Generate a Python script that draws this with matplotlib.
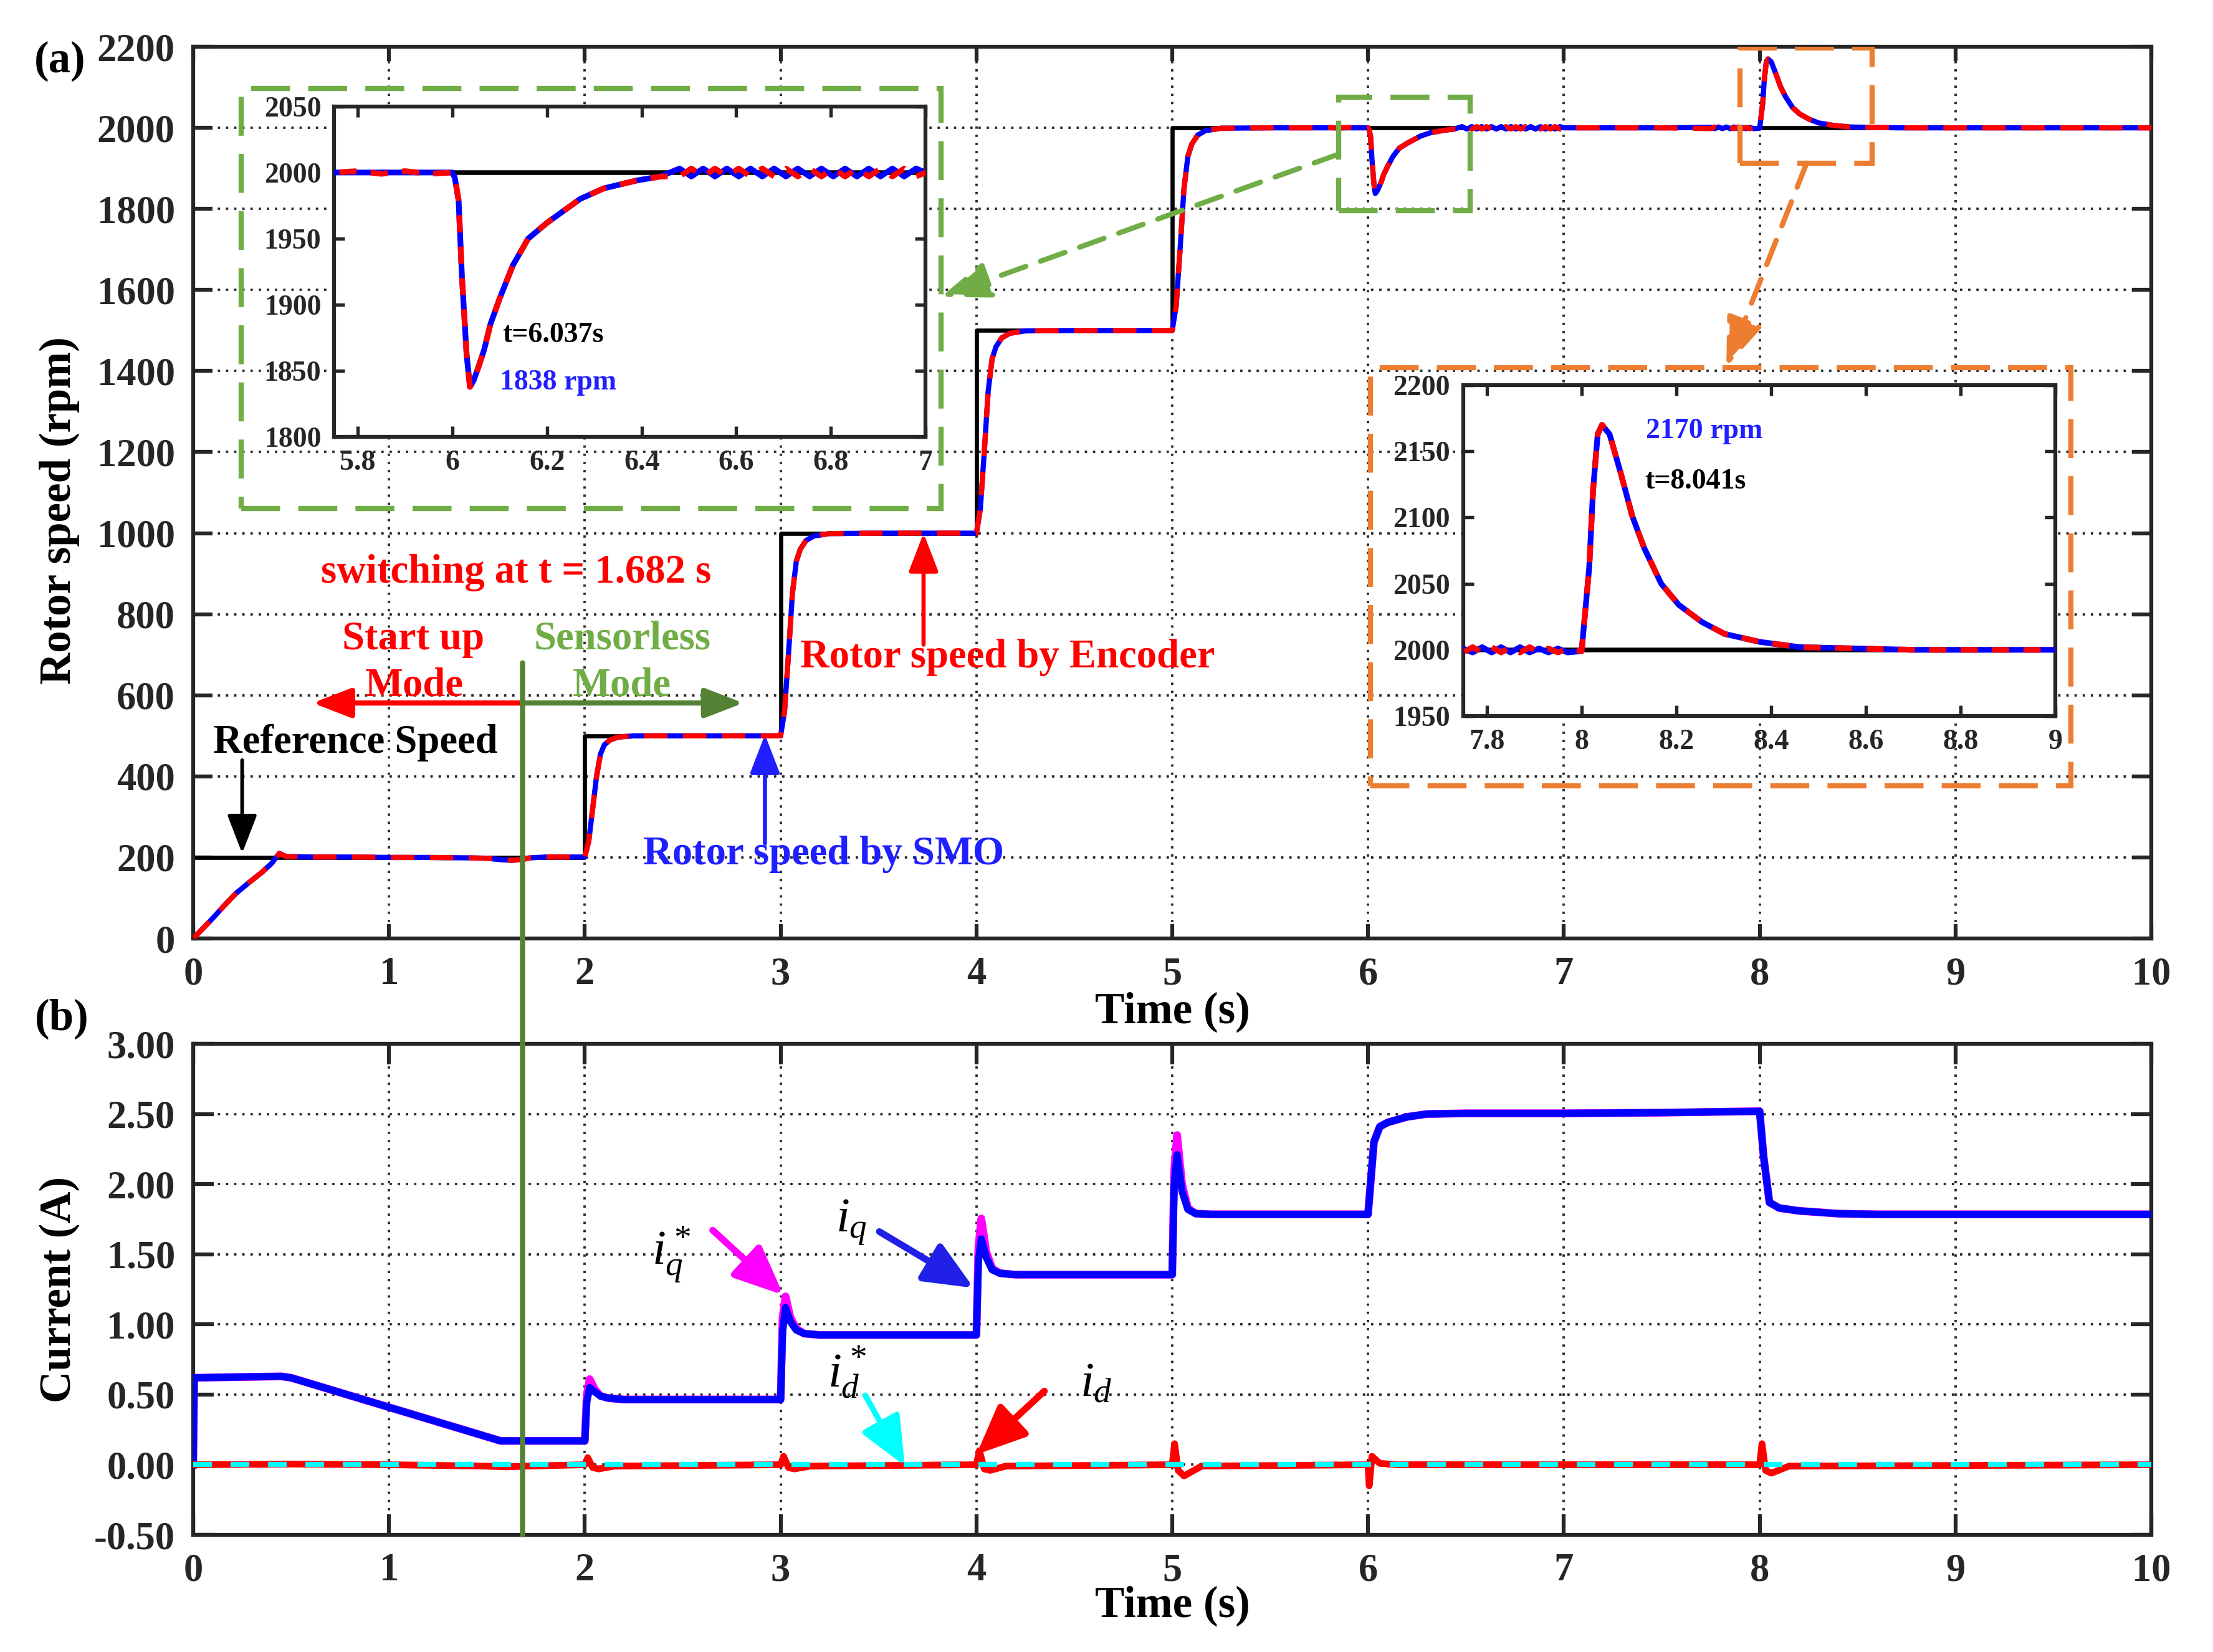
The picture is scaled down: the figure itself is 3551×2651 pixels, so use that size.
import matplotlib
matplotlib.use('Agg')
import matplotlib.pyplot as plt
from matplotlib.patches import Rectangle, ConnectionPatch

plt.rcParams['font.family'] = ['Liberation Serif', 'DejaVu Serif']
plt.rcParams['font.weight'] = 'bold'
plt.rcParams['axes.labelweight'] = 'bold'
plt.rcParams['mathtext.fontset'] = 'custom'
plt.rcParams['mathtext.rm'] = 'Liberation Serif:weight=normal'
plt.rcParams['mathtext.it'] = 'Liberation Serif:style=italic:weight=normal'
plt.rcParams['mathtext.bf'] = 'Liberation Serif:weight=bold'
plt.rcParams['axes.edgecolor'] = '#262626'
plt.rcParams['xtick.color'] = '#262626'
plt.rcParams['ytick.color'] = '#262626'

# ---- data: rotor speed (rpm) ----
t_ref = [0, 2, 2, 3, 3, 4, 4, 5, 5, 10]
ref_speed = [200, 200, 500, 500, 1000, 1000, 1500, 1500, 2000, 2000]

t_speed = [
    0, 0.05, 0.1, 0.16, 0.22, 0.29, 0.35, 0.4, 0.44, 0.47, 0.5, 0.6, 0.8, 1.0, 1.2, 1.4, 1.5, 1.58, 1.63, 1.68, 1.72, 1.8, 2.0,
    2.02, 2.04, 2.06, 2.08, 2.1, 2.13, 2.17, 2.25, 2.5, 3.0,
    3.02, 3.04, 3.06, 3.08, 3.1, 3.13, 3.17, 3.25, 3.5, 4.0,
    4.02, 4.04, 4.06, 4.08, 4.1, 4.13, 4.17, 4.25, 4.5, 5.0,
    5.02, 5.04, 5.06, 5.08, 5.1, 5.13, 5.17, 5.25, 5.5, 5.75, 5.8, 5.85, 5.9, 5.95, 6.0,
    6.005, 6.013, 6.02, 6.03, 6.037, 6.045, 6.055, 6.067, 6.08, 6.1, 6.128, 6.16, 6.2, 6.27, 6.32, 6.39, 6.44,
    6.48, 6.505, 6.53, 6.555, 6.58, 6.605, 6.63, 6.655, 6.68, 6.705, 6.73, 6.755, 6.78, 6.805, 6.83, 6.855, 6.88, 6.905, 6.93, 6.955, 6.98, 7.0,
    7.5, 7.75, 7.77, 7.79, 7.81, 7.83, 7.85, 7.87, 7.89, 7.91, 7.93, 7.95, 7.97, 8.0,
    8.016, 8.024, 8.034, 8.043, 8.059, 8.083, 8.107, 8.132, 8.168, 8.205, 8.254, 8.302, 8.376, 8.461, 8.583, 8.7, 9.0, 10.0,
]
smo_speed = [
    0, 25, 50, 82, 112, 140, 163, 185, 210, 203, 202, 201, 201, 200, 200, 199, 198, 194, 193, 195, 199, 201, 201,
    240, 320, 400, 455, 478, 490, 497, 500, 500, 500,
    560, 700, 850, 930, 960, 982, 993, 999, 1000, 1000,
    1060, 1200, 1350, 1430, 1460, 1482, 1493, 1499, 1500, 1500,
    1560, 1700, 1850, 1930, 1960, 1982, 1993, 1999, 2000, 2000, 2000, 2000, 2000, 2000, 2000,
    1996, 1979, 1922, 1862, 1838, 1843, 1853, 1866, 1885, 1905, 1930, 1950, 1962, 1980, 1988, 1994, 1997,
    2003, 1997, 2003, 1997, 2003, 1997, 2003, 1997, 2003, 1997, 2003, 1997, 2003, 1997, 2003, 1997, 2003, 1997, 2003, 1997, 2003, 2000,
    2000, 2001, 1998, 2002, 1998, 2002, 1998, 2002, 1998, 2001, 1998, 2001, 1998, 1999,
    2062, 2120, 2163, 2170, 2163, 2133, 2101, 2077, 2050, 2034, 2021, 2012, 2006, 2002, 2001, 2000, 2000, 2000,
]
enc_speed = [
    0, 25, 50, 82, 112, 140, 163, 185, 210, 203, 202, 201, 201, 200, 200, 199, 198, 194, 193, 195, 199, 201, 201,
    240, 320, 400, 455, 478, 490, 497, 500, 500, 500,
    560, 700, 850, 930, 960, 982, 993, 999, 1000, 1000,
    1060, 1200, 1350, 1430, 1460, 1482, 1493, 1499, 1500, 1500,
    1560, 1700, 1850, 1930, 1960, 1982, 1993, 1999, 2000, 2000, 2001, 1999, 2001, 1999, 2000,
    1996, 1979, 1922, 1862, 1838, 1843, 1853, 1866, 1885, 1905, 1930, 1950, 1962, 1980, 1988, 1994, 1997,
    1997, 2003, 1997, 2003, 1997, 2003, 1997, 2003, 1997, 2003, 1997, 2003, 1997, 2003, 1997, 2003, 1997, 2003, 1997, 2003, 1997, 2000,
    2000, 1998, 2002, 1998, 2002, 1998, 2002, 1998, 2002, 1998, 2001, 1998, 2001, 1999,
    2062, 2120, 2163, 2170, 2163, 2133, 2101, 2077, 2050, 2034, 2021, 2012, 2006, 2002, 2001, 2000, 2000, 2000,
]

# ---- data: currents (A) ----
t_iq = [0, 0.005, 0.45, 0.5, 1.57, 2.0,
        2.01, 2.025, 2.05, 2.08, 2.12, 2.2, 3.0,
        3.01, 3.025, 3.05, 3.08, 3.12, 3.2, 4.0,
        4.01, 4.025, 4.05, 4.08, 4.12, 4.2, 5.0,
        5.01, 5.025, 5.05, 5.08, 5.12, 5.2, 6.0,
        6.03, 6.06, 6.1, 6.2, 6.3, 6.5, 7.0, 7.5, 8.0,
        8.02, 8.05, 8.1, 8.2, 8.4, 8.6, 10.0]
iq = [0, 0.62, 0.63, 0.62, 0.17, 0.17,
      0.45, 0.55, 0.52, 0.49, 0.475, 0.465, 0.465,
      0.95, 1.12, 1.02, 0.96, 0.935, 0.925, 0.925,
      1.45, 1.61, 1.48, 1.39, 1.365, 1.355, 1.355,
      2.0, 2.21, 1.95, 1.82, 1.79, 1.785, 1.785,
      2.30, 2.41, 2.44, 2.48, 2.50, 2.505, 2.505, 2.51, 2.52,
      2.2, 1.87, 1.83, 1.81, 1.79, 1.785, 1.785]
iq_ref = [0, 0.62, 0.63, 0.62, 0.17, 0.17,
          0.50, 0.61, 0.54, 0.49, 0.475, 0.465, 0.465,
          1.05, 1.20, 1.05, 0.97, 0.935, 0.925, 0.925,
          1.55, 1.755, 1.52, 1.40, 1.365, 1.355, 1.355,
          2.1, 2.35, 2.0, 1.83, 1.79, 1.785, 1.785,
          2.30, 2.41, 2.44, 2.48, 2.50, 2.505, 2.505, 2.51, 2.52,
          2.2, 1.87, 1.83, 1.81, 1.79, 1.785, 1.785]
t_id = [0, 0.5, 1.0, 1.5, 1.6, 1.7, 2.0, 2.015, 2.04, 2.07, 2.15,
        3.0, 3.015, 3.04, 3.07, 3.15,
        4.0, 4.015, 4.04, 4.07, 4.15,
        5.0, 5.012, 5.03, 5.06, 5.15,
        6.0, 6.006, 6.02, 6.06, 6.15,
        8.0, 8.012, 8.03, 8.06, 8.15, 10.0]
id_vals = [0, 0.005, 0.0, -0.01, -0.015, -0.01, 0, 0.05, -0.02, -0.03, -0.01,
           0, 0.06, -0.02, -0.03, -0.01,
           0, 0.1, -0.03, -0.04, -0.01,
           0, 0.15, -0.04, -0.08, -0.01,
           0, -0.15, 0.06, 0.01, 0.0,
           0, 0.15, -0.04, -0.06, -0.01, 0]
t_idref = [0, 10]
id_ref = [0, 0]

t_switch = 1.682

BLUE = '#0000FF'
RED = '#FF0000'
GREEN = '#70AD47'
DKGREEN = '#548235'
ORANGE = '#ED7D31'

fig = plt.figure(figsize=(3551 / 300, 2651 / 300), dpi=300)
ax1 = fig.add_axes([0.0873, 0.4319, 0.8848, 0.5398])
ax2 = fig.add_axes([0.0873, 0.0709, 0.8848, 0.2972])

grid_kw = dict(color='#262626', linestyle=(0, (1, 2.5)), linewidth=0.9)

# ---------------- (a) speed ----------------
ax1.plot(t_ref, ref_speed, color='k', lw=1.6, zorder=2)
ax1.plot(t_speed, smo_speed, color=BLUE, lw=2.0, zorder=3)
ax1.plot(t_speed, enc_speed, color=RED, lw=2.0, dashes=(4.5, 3), zorder=3.5)
ax1.set_xlim(0, 10)
ax1.set_ylim(0, 2200)
ax1.set_xticks(range(0, 11))
ax1.set_yticks(range(0, 2201, 200))
ax1.grid(True, **grid_kw)
ax1.set_axisbelow(True)
ax1.tick_params(axis='both', direction='in', top=True, right=True, width=1.5, labelsize=15, pad=7)
ax1.tick_params(axis='x', length=5.5)
ax1.tick_params(axis='y', length=7.5)
for s in ax1.spines.values():
    s.set_linewidth(1.5)
ax1.set_xlabel('Time (s)', fontsize=17)
ax1.set_ylabel('Rotor speed (rpm)', fontsize=17)
ax1.xaxis.set_label_coords(0.5, -0.06)
ax1.yaxis.set_label_coords(-0.058, 0.48)

# dashed zoom boxes
box_kw = dict(fill=False, lw=2, linestyle=(0, (7.5, 3.5)), zorder=4)
ax1.add_patch(Rectangle((0.245, 1061), 3.574, 1036, ec=GREEN, **box_kw))
ax1.add_patch(Rectangle((5.85, 1795), 0.67, 280, ec=GREEN, **box_kw))
ax1.add_patch(Rectangle((7.9, 1913), 0.675, 284, ec=ORANGE, **box_kw))
ax1.add_patch(Rectangle((6.012, 376), 3.577, 1032, ec=ORANGE, **box_kw))

# dashed pointer arrows
ax1.annotate('', xy=(3.82, 1583), xytext=(5.85, 1935),
             arrowprops=dict(arrowstyle='-|>,head_length=0.8,head_width=0.3', color=GREEN,
                             lw=2, ls=(0, (5, 3)), mutation_scale=20, shrinkA=0, shrinkB=0), zorder=4)
ax1.annotate('', xy=(7.83, 1410), xytext=(8.24, 1913),
             arrowprops=dict(arrowstyle='-|>,head_length=0.8,head_width=0.3', color=ORANGE,
                             lw=2, ls=(0, (5, 3)), mutation_scale=20, shrinkA=0, shrinkB=0), zorder=4)

# annotation arrows and texts
def arrow(ax, xy, xytext, color, lw=1.4, hl=0.7, hw=0.27, ms=18):
    ax.annotate('', xy=xy, xytext=xytext,
                arrowprops=dict(arrowstyle='-|>,head_length=%s,head_width=%s' % (hl, hw),
                                color=color, lw=lw, mutation_scale=ms, shrinkA=0, shrinkB=0),
                zorder=6)

arrow(ax1, (0.25, 210), (0.25, 440), 'k')
arrow(ax1, (3.73, 1000), (3.73, 725), RED, lw=1.6)
arrow(ax1, (2.92, 503), (2.92, 235), '#1F1FFF', lw=1.6)
arrow(ax1, (0.61, 581), (t_switch, 581), RED, lw=2)
arrow(ax1, (2.81, 581), (t_switch, 581), DKGREEN, lw=2)

txt_kw = dict(ha='center', va='center', fontsize=15.5, zorder=6)
ax1.text(1.65, 903, 'switching at t = 1.682 s', color=RED, **txt_kw)
ax1.text(1.125, 738, 'Start up', color=RED, **txt_kw)
ax1.text(1.13, 624, 'Mode', color=RED, **txt_kw)
ax1.text(2.19, 738, 'Sensorless', color=GREEN, **txt_kw)
ax1.text(2.19, 624, 'Mode', color=GREEN, **txt_kw)
ax1.text(0.83, 483, 'Reference Speed', color='k', **txt_kw)
ax1.text(4.16, 693, 'Rotor speed by Encoder', color=RED, **txt_kw)
ax1.text(3.22, 207, 'Rotor speed by SMO', color='#1F1FFF', **txt_kw)

# insets
def inset(bounds, xlim, ylim, xticks, yticks):
    ax = ax1.inset_axes(bounds, transform=ax1.transData, zorder=5)
    ax.plot(t_ref, ref_speed, color='k', lw=1.8, zorder=2)
    ax.plot(t_speed, smo_speed, color=BLUE, lw=2.2, zorder=3)
    ax.plot(t_speed, enc_speed, color=RED, lw=2.2, dashes=(3, 2.5), zorder=3.5)
    ax.set_xlim(*xlim)
    ax.set_ylim(*ylim)
    ax.set_xticks(xticks)
    ax.set_yticks(yticks)
    ax.tick_params(direction='in', top=True, right=True, length=4, width=1.3, labelsize=11, pad=5)
    for s in ax.spines.values():
        s.set_linewidth(1.5)
    return ax

ins1 = inset([0.72, 1237, 3.02, 816], (5.75, 7.0), (1800, 2050),
             [5.8, 6, 6.2, 6.4, 6.6, 6.8, 7], range(1800, 2051, 50))
ins1.set_xticklabels(['5.8', '6', '6.2', '6.4', '6.6', '6.8', '7'])
ins1.text(6.106, 1877, 't=6.037s', color='k', fontsize=11, va='center')
ins1.text(6.10, 1841, '1838 rpm', color='#1F1FFF', fontsize=11, va='center')

ins2 = inset([6.486, 549, 3.024, 816], (7.75, 9.0), (1950, 2200),
             [7.8, 8, 8.2, 8.4, 8.6, 8.8, 9], range(1950, 2201, 50))
ins2.set_xticklabels(['7.8', '8', '8.2', '8.4', '8.6', '8.8', '9'])
ins2.text(8.136, 2165, '2170 rpm', color='#1F1FFF', fontsize=11, va='center')
ins2.text(8.134, 2127, 't=8.041s', color='k', fontsize=11, va='center')

# ---------------- (b) currents ----------------
ax2.plot(t_iq, iq_ref, color='#FF00FF', lw=3.0, zorder=2)
ax2.plot(t_iq, iq, color=BLUE, lw=2.8, zorder=3)
ax2.plot(t_id, id_vals, color=RED, lw=2.6, zorder=3)
ax2.plot(t_idref, id_ref, color='#00FFFF', lw=2.0, dashes=(3.6, 3.6), zorder=3.5)
ax2.set_xlim(0, 10)
ax2.set_ylim(-0.5, 3.0)
ax2.set_xticks(range(0, 11))
yt = [-0.5, 0, 0.5, 1.0, 1.5, 2.0, 2.5, 3.0]
ax2.set_yticks(yt)
ax2.set_yticklabels(['%.2f' % v for v in yt])
ax2.grid(True, **grid_kw)
ax2.set_axisbelow(True)
ax2.tick_params(axis='both', direction='in', top=True, right=True, width=1.5, labelsize=15, pad=7, length=8)
for s in ax2.spines.values():
    s.set_linewidth(1.5)
ax2.set_xlabel('Time (s)', fontsize=17)
ax2.set_ylabel('Current (A)', fontsize=17)
ax2.xaxis.set_label_coords(0.5, -0.104)
ax2.yaxis.set_label_coords(-0.058, 0.5)

arrow(ax2, (3.014, 1.21), (2.653, 1.672), '#FF00FF', lw=2.6, hl=0.8, hw=0.35, ms=20)
arrow(ax2, (3.986, 1.26), (3.504, 1.662), '#2020E8', lw=2.6, hl=0.8, hw=0.35, ms=20)
arrow(ax2, (3.634, -0.008), (3.432, 0.495), '#00FFFF', lw=2.2, hl=0.8, hw=0.35, ms=20)
arrow(ax2, (4.0, 0.073), (4.347, 0.525), RED, lw=2.6, hl=0.8, hw=0.35, ms=20)

m_kw = dict(ha='center', va='center', fontsize=19, fontweight='normal', zorder=6)
ax2.text(2.44, 1.50, r'$i_q^*$', **m_kw)
ax2.text(3.36, 1.73, r'$i_q$', **m_kw)
ax2.text(3.34, 0.66, r'$i_d^*$', **m_kw)
ax2.text(4.61, 0.57, r'$i_d$', **m_kw)

# switching instant line across both panels
con = ConnectionPatch(xyA=(t_switch, 680), coordsA=ax1.transData,
                      xyB=(t_switch, -0.5), coordsB=ax2.transData,
                      color=DKGREEN, lw=2.0)
fig.add_artist(con)

fig.text(0.027, 0.963, '(a)', fontsize=17, ha='center', va='center')
fig.text(0.028, 0.383, '(b)', fontsize=17, ha='center', va='center')

fig.savefig('out.png', dpi=300, facecolor='white')
